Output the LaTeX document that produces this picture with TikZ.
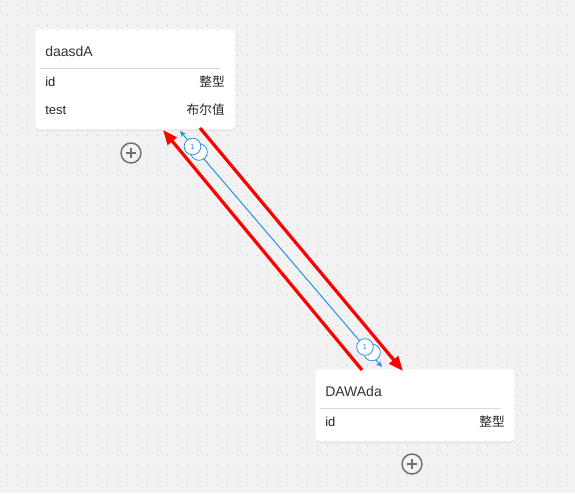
\documentclass[tikz,border=0pt]{standalone}
\usepackage{fontspec}
\setmainfont{Liberation Sans}
\newfontfamily\cjk{Noto Sans CJK SC}
\usetikzlibrary{arrows.meta,shadows}
\definecolor{canvas}{HTML}{F2F2F2}
\definecolor{griddot}{HTML}{C4C4C4}
\definecolor{linkblue}{HTML}{2B8CE8}
\definecolor{addgrey}{HTML}{707070}
\tikzset{
    entity/.style={fill=white, rounded corners=3pt, anchor=north west, inner sep=0pt,
        drop shadow={shadow xshift=0pt, shadow yshift=-1.5pt, opacity=0.1}},
    title/.style={anchor=west, inner sep=0pt, font=\fontsize{10.5pt}{12pt}\selectfont, text=black!80},
    field/.style={anchor=west, inner sep=0pt, font=\fontsize{9.75pt}{11pt}\selectfont, text=black!85},
    ftype/.style={anchor=east, inner sep=0pt, font=\cjk\fontsize{9.5pt}{11pt}\selectfont, text=black!85},
    addbtn/.style={circle, draw=addgrey, line width=1.1pt, minimum size=15pt, inner sep=0pt},
    relbig/.style={red, line width=2.4pt, -{Triangle[length=11pt, width=8.5pt]}},
    relsmall/.style={linkblue, line width=0.75pt, {Stealth[length=4.5pt, width=4pt]}-{Stealth[length=4.5pt, width=4pt]}},
    relmark/.style={circle, draw=linkblue, fill=white, line width=0.6pt, minimum size=12.5pt, inner sep=0pt,
        text=linkblue, font=\fontsize{5.5pt}{5.5pt}\selectfont}
}
\begin{document}
\begin{tikzpicture}[x=0.75pt, y=-0.75pt]
    % canvas
    \fill[canvas] (0, 0) rectangle (575, 493);
    \useasboundingbox (0, 0) rectangle (575, 493);
    \foreach \i in {0,...,57} {
        \foreach \j in {0,...,49} {
            \fill[griddot] (7 + 10*\i - 0.5, 5 + 10*\j - 0.5) rectangle ++(1, 1);
        }
    }

    % table daasdA
    \node[entity, minimum width=150pt, minimum height=75pt] (tabA) at (35, 29) {};
    \node[title] (tabAname) at (45, 51) {daasdA};
    \draw[black!15, line width=0.75pt] (40, 68) -- (220, 68);
    \node[field] (tabAid) at (45, 82) {id};
    \node[ftype] (tabAidtype) at (225, 82) {整型};
    \node[field] (tabAtest) at (45, 110) {test};
    \node[ftype] (tabAtesttype) at (225, 110) {布尔值};
    \node[addbtn] (addA) at (131, 153) {};
    \draw[addgrey, line width=1.1pt] (addA.center) ++(-5, 0) -- ++(10, 0);
    \draw[addgrey, line width=1.1pt] (addA.center) ++(0, -5) -- ++(0, 10);

    % table DAWAda
    \node[entity, minimum width=149.25pt, minimum height=54pt] (tabB) at (315, 369) {};
    \node[title] (tabBname) at (325, 391) {DAWAda};
    \draw[black!15, line width=0.75pt] (320, 408) -- (500, 408);
    \node[field] (tabBid) at (325, 422) {id};
    \node[ftype] (tabBidtype) at (505, 422) {整型};
    \node[addbtn] (addB) at (412, 464) {};
    \draw[addgrey, line width=1.1pt] (addB.center) ++(-5, 0) -- ++(10, 0);
    \draw[addgrey, line width=1.1pt] (addB.center) ++(0, -5) -- ++(0, 10);

    % relations
    \coordinate (upFrom) at (362, 370);
    \coordinate (upTo) at (163, 130);
    \coordinate (downFrom) at (200, 128);
    \coordinate (downTo) at (403, 371);
    \coordinate (linkA) at (180, 131);
    \coordinate (linkB) at (382, 367);
    \draw[relbig] (upFrom) -- (upTo);
    \draw[relbig] (downFrom) -- (downTo);
    \draw[relsmall] (linkA) -- (linkB);
    \node[relmark] (markAback) at (199, 152) {};
    \node[relmark] (markA) at (192.5, 146.5) {1};
    \node[relmark] (markBback) at (372, 352.5) {};
    \node[relmark] (markB) at (365, 347) {1};
\end{tikzpicture}
\end{document}
